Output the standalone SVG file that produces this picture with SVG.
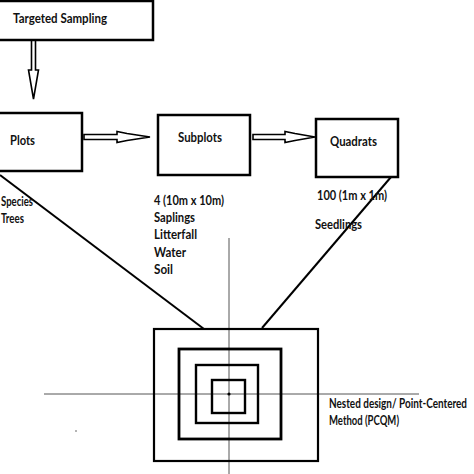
<svg xmlns="http://www.w3.org/2000/svg" width="474" height="474" viewBox="0 0 474 474">
<style>
.box{fill:#fff;stroke:#000;stroke-width:2.5}
.sq{fill:none;stroke:#000}
.t{font-family:Lato,"Liberation Sans",sans-serif;font-weight:bold;font-size:13px;fill:#111}
.ln{stroke:#000;stroke-width:2;fill:none}
.ax{stroke:#555;stroke-width:1;fill:none}
.arr{fill:#fff;stroke:#000;stroke-width:1.6;stroke-linejoin:miter}
</style>
<rect width="474" height="474" fill="#fff"/>
<g id="connectors">
<polygon class="arr" points="31.5,40 35.5,40 35.5,70 38.5,70 33.5,99 28.5,70 31.5,70"/>
<polygon class="arr" points="84,134.5 117,134.5 117,131.5 127,133.5 150,137 127,140.5 117,142.5 117,139.5 84,139.5"/>
<polygon class="arr" points="253,134.5 285,134.5 285,131.5 295,133.5 315,137 295,140.5 285,142.5 285,139.5 253,139.5"/>
<line class="ln" x1="0" y1="175" x2="204" y2="329"/>
<line class="ln" x1="391" y1="177" x2="262" y2="328"/>
</g>
<g id="targeted-sampling">
<rect class="box" x="-5" y="1" width="158" height="39"/>
<text class="t" x="13" y="23" textLength="94" lengthAdjust="spacingAndGlyphs">Targeted Sampling</text>
</g>
<g id="plots">
<rect class="box" x="-5" y="113" width="87" height="58"/>
<text class="t" x="10" y="145" textLength="25" lengthAdjust="spacingAndGlyphs">Plots</text>
<text class="t" x="1" y="206" textLength="32" lengthAdjust="spacingAndGlyphs">Species</text>
<text class="t" x="1" y="223" textLength="23" lengthAdjust="spacingAndGlyphs">Trees</text>
</g>
<g id="subplots">
<rect class="box" x="158" y="115" width="92" height="60"/>
<text class="t" x="178" y="142" textLength="44" lengthAdjust="spacingAndGlyphs">Subplots</text>
<text class="t" x="154" y="205" textLength="70" lengthAdjust="spacingAndGlyphs">4 (10m x 10m)</text>
<text class="t" x="154" y="222" textLength="41" lengthAdjust="spacingAndGlyphs">Saplings</text>
<text class="t" x="154" y="239" textLength="43" lengthAdjust="spacingAndGlyphs">Litterfall</text>
<text class="t" x="154" y="257" textLength="32" lengthAdjust="spacingAndGlyphs">Water</text>
<text class="t" x="154" y="274" textLength="19" lengthAdjust="spacingAndGlyphs">Soil</text>
</g>
<g id="quadrats">
<rect class="box" x="316" y="119" width="82" height="58"/>
<text class="t" x="330" y="146" textLength="47" lengthAdjust="spacingAndGlyphs">Quadrats</text>
<text class="t" x="317" y="200" textLength="70" lengthAdjust="spacingAndGlyphs">100 (1m x 1m)</text>
<text class="t" x="315" y="229" textLength="47" lengthAdjust="spacingAndGlyphs">Seedlings</text>
</g>
<g id="nested-design">
<line class="ax" x1="229" y1="238" x2="229" y2="474"/>
<line class="ax" x1="44" y1="394" x2="419" y2="394"/>
<rect class="sq" x="154" y="329" width="164" height="132" stroke-width="2.2"/>
<rect class="sq" x="179" y="349" width="102" height="90" stroke-width="2.8"/>
<rect class="sq" x="196" y="365" width="62" height="58" stroke-width="2.4"/>
<rect class="sq" x="212" y="380" width="33" height="33" stroke-width="2.4"/>
<circle cx="229" cy="394" r="1.6" fill="#000"/>
<circle cx="76" cy="431" r="0.8" fill="#555"/>
<text class="t" x="329" y="408" textLength="138" lengthAdjust="spacingAndGlyphs">Nested design/ Point-Centered</text>
<text class="t" x="329" y="425" textLength="70" lengthAdjust="spacingAndGlyphs">Method (PCQM)</text>
</g>
</svg>
